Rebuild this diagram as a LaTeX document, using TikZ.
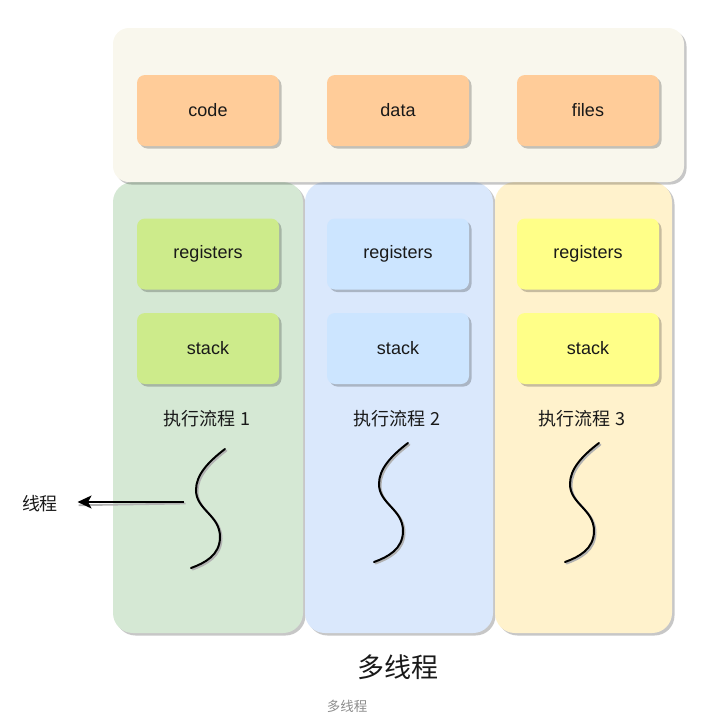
\documentclass[tikz,border=0pt]{standalone}
\usepackage{fontspec}
\setmainfont{Liberation Sans}
\newfontfamily\cjk{Noto Sans CJK SC}
\usetikzlibrary{shadows,arrows.meta}

\definecolor{shellfill}{HTML}{F9F7ED}
\definecolor{colgreen}{HTML}{D5E8D4}
\definecolor{colblue}{HTML}{DAE8FC}
\definecolor{colyellow}{HTML}{FFF2CC}
\definecolor{partorange}{HTML}{FFCC99}
\definecolor{reggreen}{HTML}{CDEB8B}
\definecolor{regblue}{HTML}{CCE5FF}
\definecolor{regyellow}{HTML}{FFFF88}

\tikzset{
  shade box/.style={drop shadow={shadow xshift=2.5pt,shadow yshift=-2.5pt,fill=black,opacity=.22}},
  column/.style={shade box, rounded corners=20pt, minimum height=451pt, inner sep=0pt},
  part/.style={shade box, rounded corners=8pt, minimum width=142pt, minimum height=71pt,
    font=\fontsize{18}{22}\selectfont, text=black!90},
  flowlabel/.style={font=\cjk\fontsize{18}{22}\selectfont, text=black!90},
  thread/.style={line width=2pt, line cap=round},
}

\begin{document}
\begin{tikzpicture}[x=1pt,y=-1pt]
\useasboundingbox (0,0) rectangle (721,724);

% Flujos de ejecucion
\node[column, fill=colgreen, minimum width=190pt] (col1) at (208,407.5) {};
\node[column, fill=colblue, minimum width=188pt] (col2) at (399,407.5) {};
\node[column, fill=colyellow, minimum width=177pt] (col3) at (583.5,407.5) {};

% Recursos compartidos
\node[shade box, fill=shellfill, rounded corners=16pt, minimum width=571pt, minimum height=154pt] (shell) at (398.5,105) {};
\node[part, fill=partorange] (code) at (208,110.5) {code};
\node[part, fill=partorange] (data) at (398,110.5) {data};
\node[part, fill=partorange] (files) at (588,110.5) {files};

% Registros y pila
\foreach \x/\lx/\c [count=\i] in {208/207/reggreen, 398/397/regblue, 588/582/regyellow} {
	\node[part, fill=\c] (reg\i) at (\x,254) {registers};
	\node[part, fill=\c] (stack\i) at (\x,348.5) {stack};
	\node[flowlabel] (flow\i) at (\lx,419) {执行流程 \i};
}

% Hilos
\foreach \dx/\dy in {0/0, 183/-6, 374/-6} {
	\begin{scope}[shift={(\dx,\dy)}]
		\draw[thread, black!30] (226.5,450.5) .. controls (209.5,463.5) and (197.5,476.5) .. (197.5,491.5)
			.. controls (197.5,511.5) and (221.5,516.5) .. (221.5,538.5)
			.. controls (221.5,556.5) and (206.5,564.5) .. (192.5,569.5);
		\draw[thread] (225,449) .. controls (208,462) and (196,475) .. (196,490)
			.. controls (196,510) and (220,515) .. (220,537)
			.. controls (220,555) and (205,563) .. (191,568);
	\end{scope}
}

% Etiqueta del hilo
\coordinate (t1) at (184,502);
\node[flowlabel] (lbl) at (40,504) {线程};
\draw[line width=1.8pt, black!30, shorten >=17pt] (185.5,503.5) -- ([yshift=-1.5pt]lbl.east);
\draw[line width=1.8pt, -{Stealth[length=14pt,width=13pt,inset=3.5pt]}, shorten >=16pt] (t1) -- (lbl.east |- t1);

% Titulos
\node[font=\cjk\fontsize{27}{30}\selectfont, text=black!90] (title) at (398,667) {多线程};
\node[font=\cjk\fontsize{13.5}{16}\selectfont, text=black!45] (caption) at (347,706) {多线程};
\end{tikzpicture}
\end{document}
